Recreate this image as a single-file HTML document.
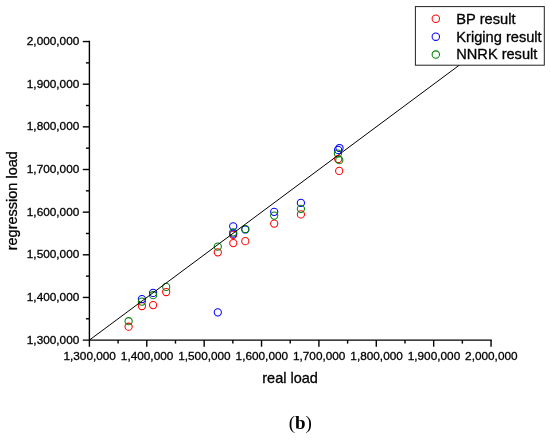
<!DOCTYPE html>
<html><head><meta charset="utf-8"><title>chart</title>
<style>html,body{margin:0;padding:0;background:#fff;}body{width:550px;height:440px;position:relative;overflow:hidden;}</style></head>
<body>
<svg width="550" height="440" viewBox="0 0 550 440" style="position:absolute;left:0;top:0">
<rect x="0" y="0" width="550" height="440" fill="#fff"/>
<g stroke="#000" stroke-width="1.4" fill="none" stroke-linecap="butt">
<path d="M89.4 40.849999999999994 V346.70000000000005"/>
<path d="M82.80000000000001 340.1 H491.75"/>
<path d="M118.09 340.1 V343.6"/>
<path d="M89.4 318.78 H85.9"/>
<path d="M146.78 340.1 V346.70000000000005"/>
<path d="M89.4 297.45 H82.80000000000001"/>
<path d="M175.47 340.1 V343.6"/>
<path d="M89.4 276.12 H85.9"/>
<path d="M204.16 340.1 V346.70000000000005"/>
<path d="M89.4 254.80 H82.80000000000001"/>
<path d="M232.85 340.1 V343.6"/>
<path d="M89.4 233.48 H85.9"/>
<path d="M261.54 340.1 V346.70000000000005"/>
<path d="M89.4 212.15 H82.80000000000001"/>
<path d="M290.23 340.1 V343.6"/>
<path d="M89.4 190.83 H85.9"/>
<path d="M318.91 340.1 V346.70000000000005"/>
<path d="M89.4 169.50 H82.80000000000001"/>
<path d="M347.60 340.1 V343.6"/>
<path d="M89.4 148.18 H85.9"/>
<path d="M376.29 340.1 V346.70000000000005"/>
<path d="M89.4 126.85 H82.80000000000001"/>
<path d="M404.98 340.1 V343.6"/>
<path d="M89.4 105.53 H85.9"/>
<path d="M433.67 340.1 V346.70000000000005"/>
<path d="M89.4 84.20 H82.80000000000001"/>
<path d="M462.36 340.1 V343.6"/>
<path d="M89.4 62.88 H85.9"/>
<path d="M491.05 340.1 V346.70000000000005"/>
<path d="M89.4 41.55 H82.80000000000001"/>
</g>
<g fill="none" stroke="#ff0000" stroke-width="1.05"><circle cx="128.6" cy="326.7" r="3.6"/><circle cx="141.9" cy="306.0" r="3.6"/><circle cx="153.1" cy="305.1" r="3.6"/><circle cx="166.2" cy="292.0" r="3.6"/><circle cx="217.8" cy="252.3" r="3.6"/><circle cx="233.3" cy="243.1" r="3.6"/><circle cx="233.2" cy="234.8" r="3.6"/><circle cx="245.3" cy="241.2" r="3.6"/><circle cx="274.2" cy="223.6" r="3.6"/><circle cx="300.9" cy="214.4" r="3.6"/><circle cx="338.2" cy="159.0" r="3.6"/><circle cx="339.2" cy="170.9" r="3.6"/></g>
<g fill="none" stroke="#0000ff" stroke-width="1.05"><circle cx="141.9" cy="299.1" r="3.6"/><circle cx="153.1" cy="292.9" r="3.6"/><circle cx="217.8" cy="312.3" r="3.6"/><circle cx="233.2" cy="226.3" r="3.6"/><circle cx="233.2" cy="233.6" r="3.6"/><circle cx="245.3" cy="229.5" r="3.6"/><circle cx="274.2" cy="211.8" r="3.6"/><circle cx="300.9" cy="202.9" r="3.6"/><circle cx="339.5" cy="148.0" r="3.6"/><circle cx="338.1" cy="149.9" r="3.6"/></g>
<g fill="none" stroke="#008000" stroke-width="1.05"><circle cx="128.6" cy="321.2" r="3.6"/><circle cx="141.9" cy="301.6" r="3.6"/><circle cx="153.1" cy="295.2" r="3.6"/><circle cx="166.2" cy="286.9" r="3.6"/><circle cx="217.8" cy="246.6" r="3.6"/><circle cx="233.2" cy="232.3" r="3.6"/><circle cx="245.3" cy="229.0" r="3.6"/><circle cx="274.2" cy="215.6" r="3.6"/><circle cx="300.9" cy="208.8" r="3.6"/><circle cx="337.9" cy="153.5" r="3.6"/><circle cx="339.3" cy="160.2" r="3.6"/></g>
<path d="M89.4 340.1 L491.05 41.55" stroke="#000" stroke-width="1.0" fill="none"/>
<rect x="415.4" y="6.6" width="128.9" height="58.6" fill="#fff" stroke="#222" stroke-width="1"/>
<circle cx="435.8" cy="18.7" r="3.7" fill="none" stroke="#ff0000" stroke-width="1.05"/>
<circle cx="435.8" cy="36.65" r="3.7" fill="none" stroke="#0000ff" stroke-width="1.05"/>
<circle cx="435.8" cy="54.6" r="3.7" fill="none" stroke="#008000" stroke-width="1.05"/>
<g font-family="Liberation Sans, Arial, sans-serif" fill="#000" stroke="#000" stroke-width="0.3">
<g font-size="13.9px">
<text x="456.3" y="23.7" textLength="59.2" lengthAdjust="spacingAndGlyphs">BP result</text>
<text x="456.3" y="41.6" textLength="85.4" lengthAdjust="spacingAndGlyphs">Kriging result</text>
<text x="456.3" y="59.4" textLength="81.0" lengthAdjust="spacingAndGlyphs">NNRK result</text>
</g>
<g font-size="11.8px">
<text x="89.70" y="359.7" text-anchor="middle">1,300,000</text>
<text x="79.3" y="343.70" text-anchor="end">1,300,000</text>
<text x="147.08" y="359.7" text-anchor="middle">1,400,000</text>
<text x="79.3" y="301.05" text-anchor="end">1,400,000</text>
<text x="204.46" y="359.7" text-anchor="middle">1,500,000</text>
<text x="79.3" y="258.40" text-anchor="end">1,500,000</text>
<text x="261.84" y="359.7" text-anchor="middle">1,600,000</text>
<text x="79.3" y="215.75" text-anchor="end">1,600,000</text>
<text x="319.21" y="359.7" text-anchor="middle">1,700,000</text>
<text x="79.3" y="173.10" text-anchor="end">1,700,000</text>
<text x="376.59" y="359.7" text-anchor="middle">1,800,000</text>
<text x="79.3" y="130.45" text-anchor="end">1,800,000</text>
<text x="433.97" y="359.7" text-anchor="middle">1,900,000</text>
<text x="79.3" y="87.80" text-anchor="end">1,900,000</text>
<text x="491.35" y="359.7" text-anchor="middle">2,000,000</text>
<text x="79.3" y="45.15" text-anchor="end">2,000,000</text>
</g>
<text x="290.1" y="383" font-size="14.5px" text-anchor="middle">real load</text>
<text transform="translate(16.6 200.7) rotate(-90)" font-size="14.5px" text-anchor="middle">regression load</text>
</g>
<text x="300.3" y="428.5" font-family="Liberation Serif, Times New Roman, serif" font-size="19px" text-anchor="middle" fill="#000">(<tspan font-weight="bold">b</tspan>)</text>
</svg>
</body></html>
